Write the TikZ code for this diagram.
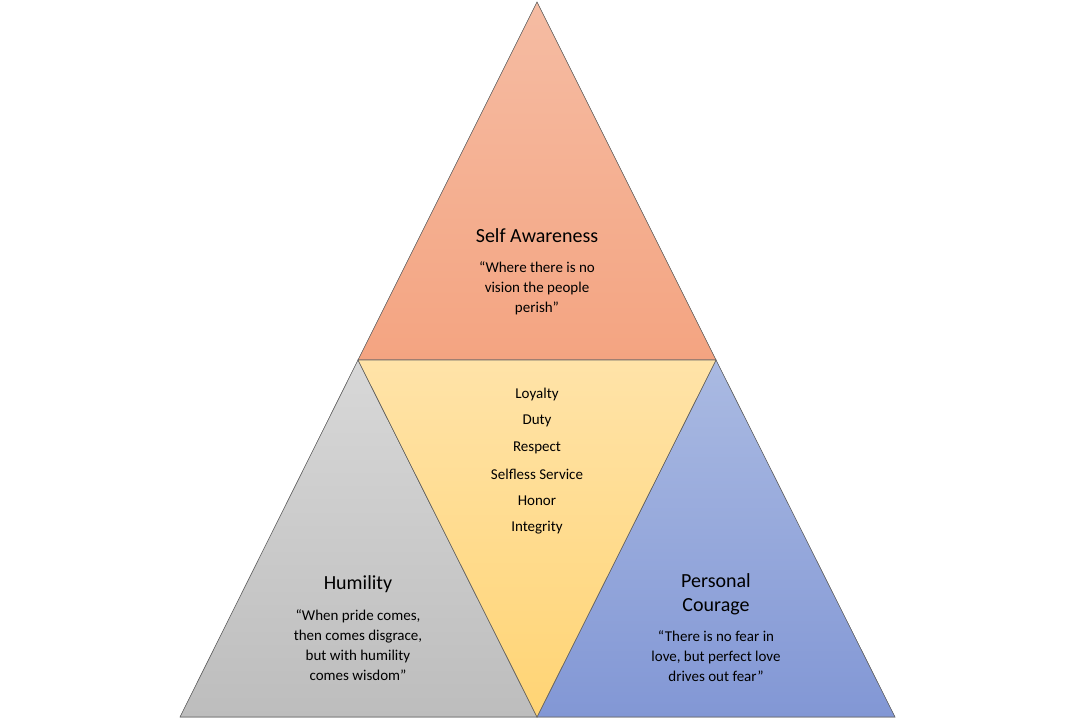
\documentclass[tikz,border=0pt]{standalone}
\usepackage{fontspec}
\setmainfont{Carlito}
\definecolor{salmonT}{HTML}{F5BCA3}
\definecolor{salmonB}{HTML}{F4A481}
\definecolor{greyT}{HTML}{D8D8D8}
\definecolor{greyB}{HTML}{BDBDBD}
\definecolor{blueT}{HTML}{AABAE2}
\definecolor{blueB}{HTML}{8297D5}
\definecolor{goldT}{HTML}{FFE3A8}
\definecolor{goldB}{HTML}{FFD474}
\tikzstyle{tri}=[draw=black!60,line width=0.6pt]
\tikzstyle{head}=[align=center,font=\fontsize{20}{24}\selectfont]
\tikzstyle{quote}=[align=center,font=\fontsize{15}{20}\selectfont]
\tikzstyle{value}=[font=\fontsize{15}{18}\selectfont]

\begin{document}
\begin{tikzpicture}[x=1pt,y=-1pt]
        \useasboundingbox (0,0) rectangle (1075,720);
        % corners
        \coordinate (top)   at (537,2);
        \coordinate (left)  at (180,717);
        \coordinate (right) at (895,717);
        \coordinate (ml)    at (358,360);
        \coordinate (mr)    at (716,360);
        \coordinate (mb)    at (537,717);

        \filldraw[tri,top color=salmonT,bottom color=salmonB] (top) -- (mr) -- (ml) -- cycle;
        \filldraw[tri,top color=greyT,bottom color=greyB]     (ml) -- (mb) -- (left) -- cycle;
        \filldraw[tri,top color=blueT,bottom color=blueB]     (mr) -- (right) -- (mb) -- cycle;
        \filldraw[tri,top color=goldT,bottom color=goldB]     (ml) -- (mr) -- (mb) -- cycle;

        \node[head]  (selfaware) at (537,236) {Self Awareness};
        \node[quote] (vision)    at (537,288) {“Where there is no\\vision the people\\perish”};

        \node[head]  (humility)  at (358,584) {Humility};
        \node[quote] (pride)     at (358,645) {“When pride comes,\\then comes disgrace,\\but with humility\\comes wisdom”};

        \node[head]  (courage)   at (716,594) {Personal\\Courage};
        \node[quote] (fear)      at (716,656) {“There is no fear in\\love, but perfect love\\drives out fear”};

        \foreach \name [count=\i] in {Loyalty,Duty,Respect,Selfless Service,Honor,Integrity}
          \node[value] (val\i) at (537,394+26.8*\i-26.8) {\name};
\end{tikzpicture}
\end{document}
